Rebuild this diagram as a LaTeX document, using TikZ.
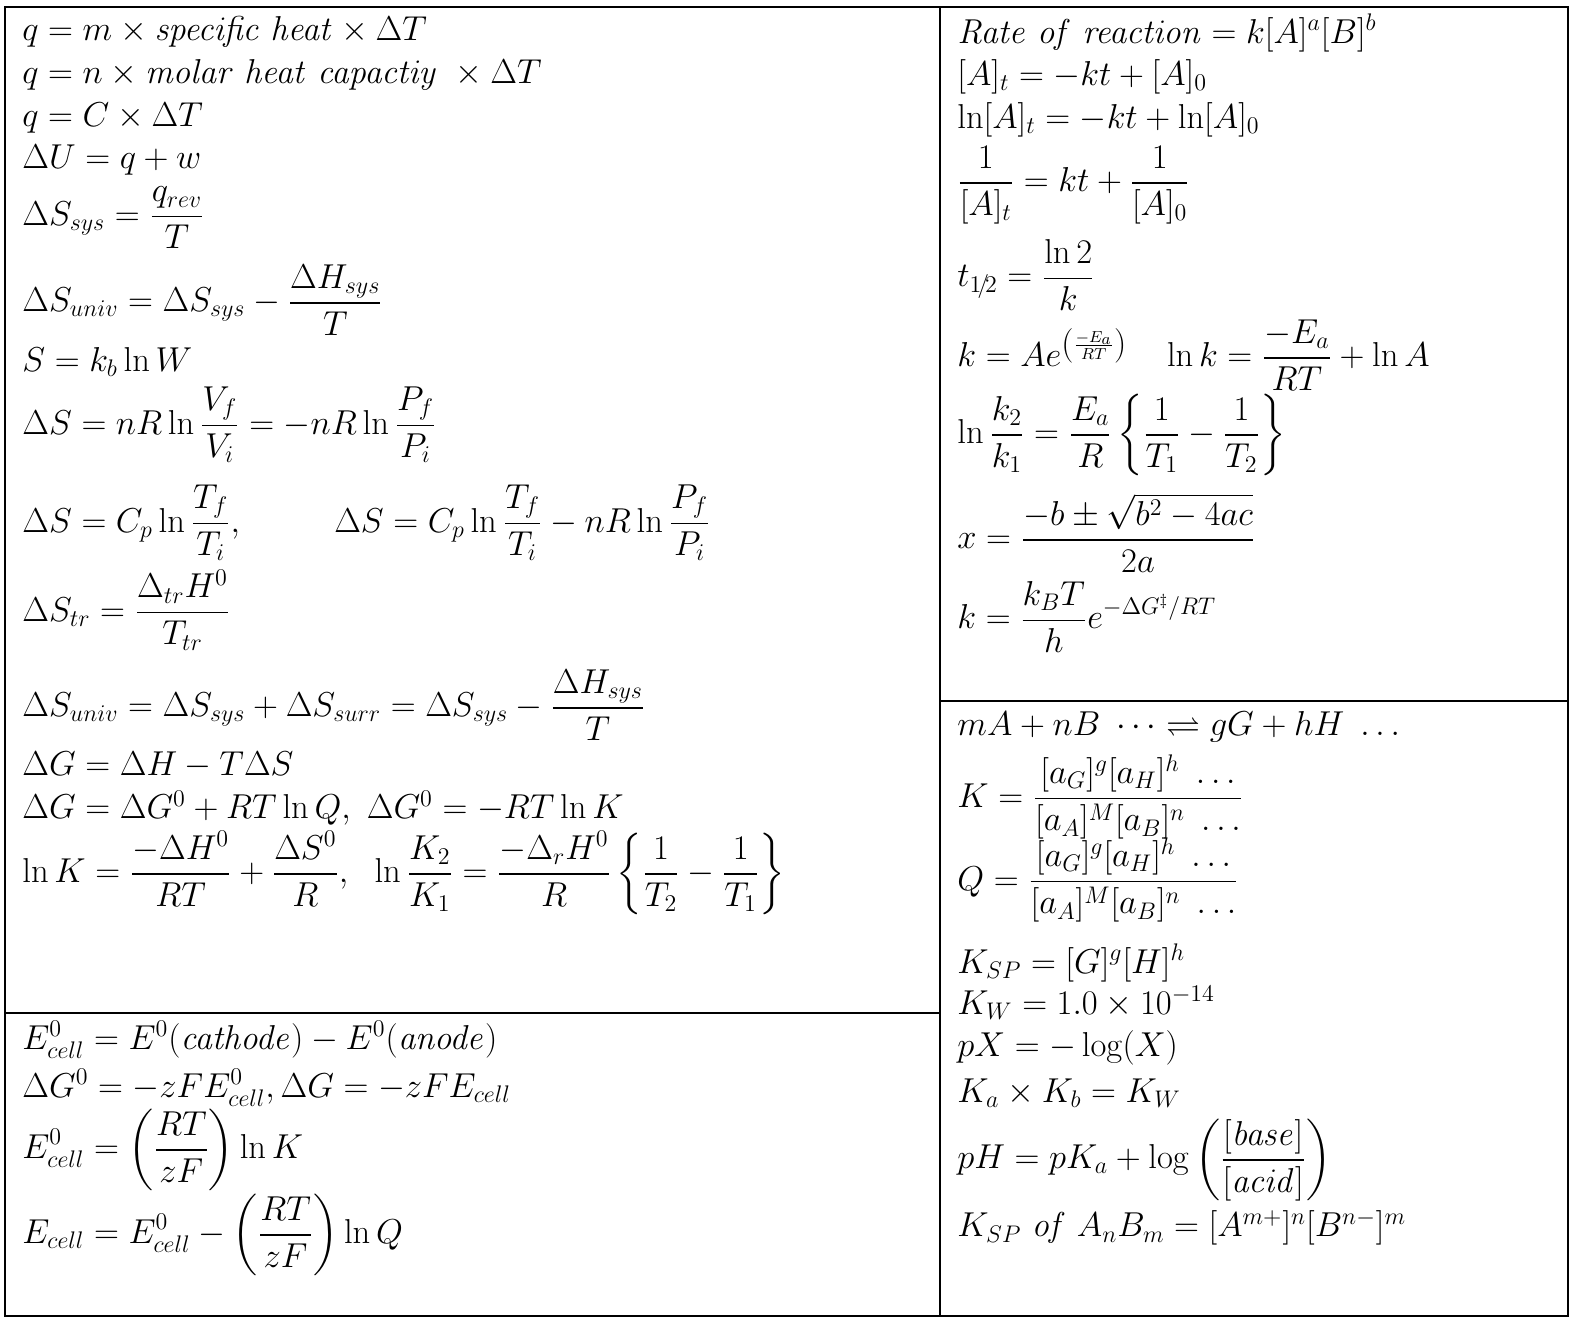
\documentclass[tikz,border=0pt]{standalone}
\usepackage{amsmath,amssymb}
\begin{document}
\begin{tikzpicture}[x=0.5pt,y=-0.5pt]
\tikzset{eq/.style={anchor=west,inner sep=0pt,font=\fontsize{17}{20}\selectfont}}
\useasboundingbox (0,0) rectangle (1572,1316);
\draw[line width=1pt] (5,7) rectangle (1568,1316);
\draw[line width=1pt] (940,7) -- (940,1316);
\draw[line width=1pt] (5,1013) -- (940,1013);
\draw[line width=1pt] (940,701) -- (1568,701);
% left
\node[eq] (l1) at (22,32) {$q=m\times \mathit{specific\ heat}\times\Delta T$};
\node[eq] (l2) at (22,75) {$q=n\times \mathit{molar\ heat\ capactiy}\ \times\Delta T$};
\node[eq] (l3) at (22,118) {$q=C\times\Delta T$};
\node[eq] (l4) at (22,160) {$\Delta U=q+w$};
\node[eq] (l5) at (22,218) {$\displaystyle \Delta S_{sys}=\frac{q_{rev}}{T}$};
\node[eq] (l6) at (22,300) {$\displaystyle \Delta S_{univ}=\Delta S_{sys}-\frac{\Delta H_{sys}}{T}$};
\node[eq] (l7) at (22,362) {$S=k_b\ln W$};
\node[eq] (l8) at (22,425) {$\displaystyle \Delta S=nR\ln\frac{V_f}{V_i}=-nR\ln\frac{P_f}{P_i}$};
\node[eq] (l9) at (22,523) {$\displaystyle \Delta S=C_p\ln\frac{T_f}{T_i},\qquad\ \ \Delta S=C_p\ln\frac{T_f}{T_i}-nR\ln\frac{P_f}{P_i}$};
\node[eq] (l10) at (22,610) {$\displaystyle \Delta S_{tr}=\frac{\Delta_{tr}H^0}{T_{tr}}$};
\node[eq] (l11) at (22,705) {$\displaystyle \Delta S_{univ}=\Delta S_{sys}+\Delta S_{surr}=\Delta S_{sys}-\frac{\Delta H_{sys}}{T}$};
\node[eq] (l12) at (22,765) {$\Delta G=\Delta H-T\Delta S$};
\node[eq] (l13) at (22,808) {$\Delta G=\Delta G^0+RT\ln Q,\ \Delta G^0=-RT\ln K$};
\node[eq] (l14) at (22,873) {$\displaystyle \ln K=\frac{-\Delta H^0}{RT}+\frac{\Delta S^0}{R},\ \ \ln\frac{K_2}{K_1}=\frac{-\Delta_r H^0}{R}\left\{\frac{1}{T_2}-\frac{1}{T_1}\right\}$};
\node[eq] (e1) at (22,1040) {$E^0_{cell}=E^0(\mathit{cathode})-E^0(\mathit{anode})$};
\node[eq] (e2) at (22,1088) {$\Delta G^0=-zFE^0_{cell},\Delta G=-zFE_{cell}$};
\node[eq] (e3) at (22,1150) {$\displaystyle E^0_{cell}=\left(\frac{RT}{zF}\right)\ln K$};
\node[eq] (e4) at (22,1235) {$\displaystyle E_{cell}=E^0_{cell}-\left(\frac{RT}{zF}\right)\ln Q$};
% right top
\node[eq] (r1) at (957,33) {$\mathit{Rate\ of\ reaction}=k[A]^a[B]^b$};
\node[eq] (r2) at (957,77) {$[A]_t=-kt+[A]_0$};
\node[eq] (r3) at (957,120) {$\ln[A]_t=-kt+\ln[A]_0$};
\node[eq] (r4) at (957,185) {$\displaystyle \frac{1}{[A]_t}=kt+\frac{1}{[A]_0}$};
\node[eq] (r5) at (957,275) {$\displaystyle t_{1\!/\!2}=\frac{\ln 2}{k}$};
\node[eq] (r6) at (957,355) {$\displaystyle k=Ae^{\left(\frac{-E_a}{RT}\right)}\quad\ln k=\frac{-E_a}{RT}+\ln A$};
\node[eq] (r7) at (957,435) {$\displaystyle \ln\frac{k_2}{k_1}=\frac{E_a}{R}\left\{\frac{1}{T_1}-\frac{1}{T_2}\right\}$};
\node[eq] (r8) at (957,533) {$\displaystyle x=\frac{-b\pm\sqrt{b^2-4ac}}{2a}$};
\node[eq] (r9) at (957,617) {$\displaystyle k=\frac{k_BT}{h}e^{-\Delta G^\ddagger/RT}$};
% right bottom
\node[eq] (q1) at (957,727) {$mA+nB\ \dots\rightleftharpoons gG+hH\ \dots$};
\node[eq] (q2) at (957,797) {$\displaystyle K=\frac{[a_G]^g[a_H]^h\ \dots}{[a_A]^M[a_B]^n\ \dots}$};
\node[eq] (q3) at (957,880) {$\displaystyle Q=\frac{[a_G]^g[a_H]^h\ \dots}{[a_A]^M[a_B]^n\ \dots}$};
\node[eq] (q4) at (957,963) {$K_{SP}=[G]^g[H]^h$};
\node[eq] (q5) at (957,1003) {$K_W=1.0\times10^{-14}$};
\node[eq] (q6) at (957,1048) {$pX=-\log(X)$};
\node[eq] (q7) at (957,1093) {$K_a\times K_b=K_W$};
\node[eq] (q8) at (957,1160) {$\displaystyle pH=pK_a+\log\left(\frac{[\mathit{base}]}{[\mathit{acid}]}\right)$};
\node[eq] (q9) at (957,1228) {$K_{SP}\ \mathit{of}\ A_nB_m=[A^{m+}]^n[B^{n-}]^m$};
\end{tikzpicture}
\end{document}
